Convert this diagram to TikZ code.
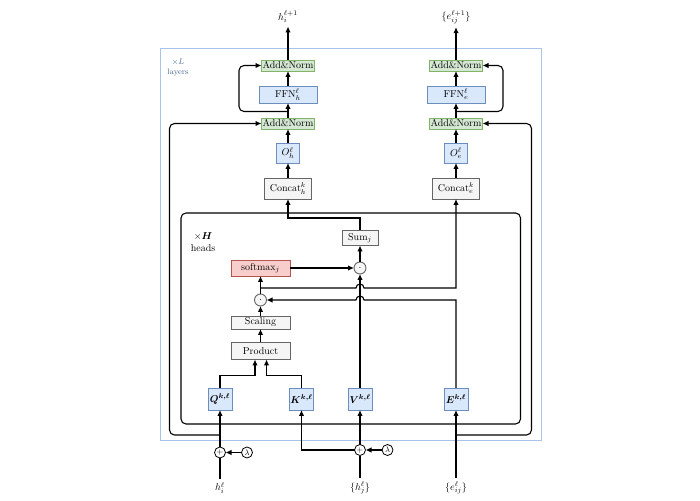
\documentclass[tikz,border=0pt]{standalone}
\usepackage{amsmath}
\usepackage{amssymb}
\usepackage{bm}
\usepackage{tikz}
\usetikzlibrary{arrows.meta, shapes, positioning}

\definecolor{blueF}{HTML}{DAE8FC}
\definecolor{blueD}{HTML}{6C8EBF}
\definecolor{greenF}{HTML}{D5E8D4}
\definecolor{greenD}{HTML}{82B366}
\definecolor{redF}{HTML}{F8CECC}
\definecolor{redD}{HTML}{B85450}
\definecolor{grayF}{HTML}{F5F5F5}
\definecolor{grayD}{HTML}{666666}
\definecolor{layerC}{HTML}{A9C4EB}
\definecolor{layerT}{HTML}{4A6A94}

\tikzset{
  box/.style={rectangle, draw, line width=0.9pt, inner sep=1pt, outer sep=0pt},
  bluebox/.style={box, draw=blueD, fill=blueF},
  greenbox/.style={box, draw=greenD, fill=greenF, minimum width=53pt, minimum height=11pt},
  graybox/.style={box, draw=grayD, fill=grayF},
  redbox/.style={box, draw=redD, fill=redF},
  qkvbox/.style={bluebox, minimum width=24pt, minimum height=22pt},
  dotnode/.style={circle, draw=grayD, fill=grayF, line width=0.9pt, inner sep=0pt, outer sep=0pt, minimum size=12pt},
  opnode/.style={circle, draw, fill=white, line width=0.8pt, inner sep=0pt, outer sep=0pt, minimum size=11pt, font=\footnotesize},
  arr/.style={-{Latex[length=6pt, width=5.5pt]}, line width=1.1pt},
  wire/.style={line width=1.1pt},
}

\begin{document}
\begin{tikzpicture}[x=1pt, y=1pt, node distance=15pt]
  \useasboundingbox (0,0) rectangle (700,500);
  % frames for layers and heads
  \draw[layerC, line width=0.8pt] (160,59.5) rectangle (541,452);
  \node[text=layerT, font=\footnotesize, align=center, inner sep=0pt] (layers) at (178,432.5) {$\times L$\\layers};
  \draw[line width=1.1pt, rounded corners=5pt] (181,76) rectangle (520.5,287);
  \node[align=center, inner sep=0pt] (heads) at (203,257.5) {$\times \bm{H}$\\heads};

  % node stream
  \node[graybox, minimum width=47pt, minimum height=21pt] (Ch) at (288,311.5) {Concat$_h^k$};
  \node[bluebox, minimum width=23pt, minimum height=20pt] (Oh) [above=15pt of Ch] {$O_h^\ell$};
  \node[greenbox] (ANh2) [above=14pt of Oh] {Add\&Norm};
  \node[bluebox, minimum width=58pt, minimum height=17pt] (FFNh) [above=15pt of ANh2] {FFN$_h^\ell$};
  \node[greenbox] (ANh1) [above=15pt of FFNh] {Add\&Norm};
  \node (outh) at (288,483) {$h_i^{\ell+1}$};

  % edge stream
  \node[graybox, minimum width=47pt, minimum height=21pt] (Ce) at (456,311.5) {Concat$_e^k$};
  \node[bluebox, minimum width=23pt, minimum height=20pt] (Oe) [above=15pt of Ce] {$O_e^\ell$};
  \node[greenbox] (ANe2) [above=14pt of Oe] {Add\&Norm};
  \node[bluebox, minimum width=58pt, minimum height=17pt] (FFNe) [above=15pt of ANe2] {FFN$_e^\ell$};
  \node[greenbox] (ANe1) [above=15pt of FFNe] {Add\&Norm};
  \node (oute) at (456,483) {$\{e_{ij}^{\ell+1}\}$};

  % attention head
  \node[qkvbox] (Q) at (220,101) {$\bm{Q^{k,\ell}}$};
  \node[qkvbox] (K) at (301.5,101) {$\bm{K^{k,\ell}}$};
  \node[qkvbox] (V) at (360,101) {$\bm{V^{k,\ell}}$};
  \node[qkvbox] (E) at (456,101) {$\bm{E^{k,\ell}}$};
  \node[graybox, minimum width=59pt, minimum height=17pt] (Prod) at (260.5,149) {Product};
  \node[graybox, minimum width=59pt, minimum height=13pt] (Scal) [above=13.5pt of Prod] {Scaling};
  \node[dotnode] (dotA) [above=10pt of Scal] {$\cdot$};
  \node[redbox, minimum width=59pt, minimum height=16pt] (soft) [above=18pt of dotA] {softmax$_j$};
  \node[dotnode] (dotB) at (V |- soft) {$\cdot$};
  \node[graybox, minimum width=36pt, minimum height=15pt] (Sum) [above=16.5pt of dotB] {Sum$_j$};

  % inputs
  \node[opnode] (plusi) at (220,47.5) {$+$};
  \node[opnode] (lami) [right=16pt of plusi] {$\lambda$};
  \node[opnode] (plusj) at (360,50) {$+$};
  \node[opnode] (lamj) [right=16.5pt of plusj] {$\lambda$};
  \node (hi) at (220,12) {$h_i^\ell$};
  \node (hj) at (360,12) {$\{h_j^\ell\}$};
  \node (eij) at (456,12) {$\{e_{ij}^\ell\}$};

  \coordinate (loopi) at (220,65);
  \coordinate (loope) at (456,65);
  \coordinate (hopA) at (260.5,212);

  \draw[wire] (hi) -- (plusi);
  \draw[wire] (hj) -- (plusj);
  \path[arr] (lami) edge (plusi)
             (lamj) edge (plusj)
             (plusi) edge (Q)
             (plusj) edge (V)
             (eij) edge (E);
  \draw[arr] (plusj.west) -| (K.south);

  \draw[arr] (Q.north) -- ++(0,12.5) -| ([xshift=-5.5pt]Prod.south);
  \draw[arr] (K.north) -- ++(0,12.5) -| ([xshift=6pt]Prod.south);
  \path[arr] (Prod) edge (Scal)
             (Scal) edge (dotA)
             (dotA) edge (soft)
             (soft) edge (dotB)
             (V) edge (dotB)
             (dotB) edge (Sum);
  \draw[arr] (Sum.north) -- ++(0,12.5) -| (Ch.south);
  \draw[arr] (hopA) -- (356,212) arc (180:0:4) -| (Ce.south);
  \draw[arr] (E.north) |- (364,200) arc (0:180:4) -- (dotA.east);

  \path[arr] (Ch) edge (Oh)
             (Oh) edge (ANh2)
             (ANh2) edge (FFNh)
             (FFNh) edge (ANh1)
             (ANh1) edge (outh)
             (Ce) edge (Oe)
             (Oe) edge (ANe2)
             (ANe2) edge (FFNe)
             (FFNe) edge (ANe1)
             (ANe1) edge (oute);

  % residual connections
  \draw[arr, rounded corners=5pt] (loopi) -- (169.5,65) |- (ANh2.west);
  \draw[arr, rounded corners=5pt] (loope) -- (531.5,65) |- (ANe2.east);
  \draw[arr, rounded corners=5pt] ([yshift=6.5pt]ANh2.north) -- ++(-49,0) |- (ANh1.west);
  \draw[arr, rounded corners=5pt] ([yshift=6.5pt]ANe2.north) -- ++(47,0) |- (ANe1.east);
\end{tikzpicture}
\end{document}
